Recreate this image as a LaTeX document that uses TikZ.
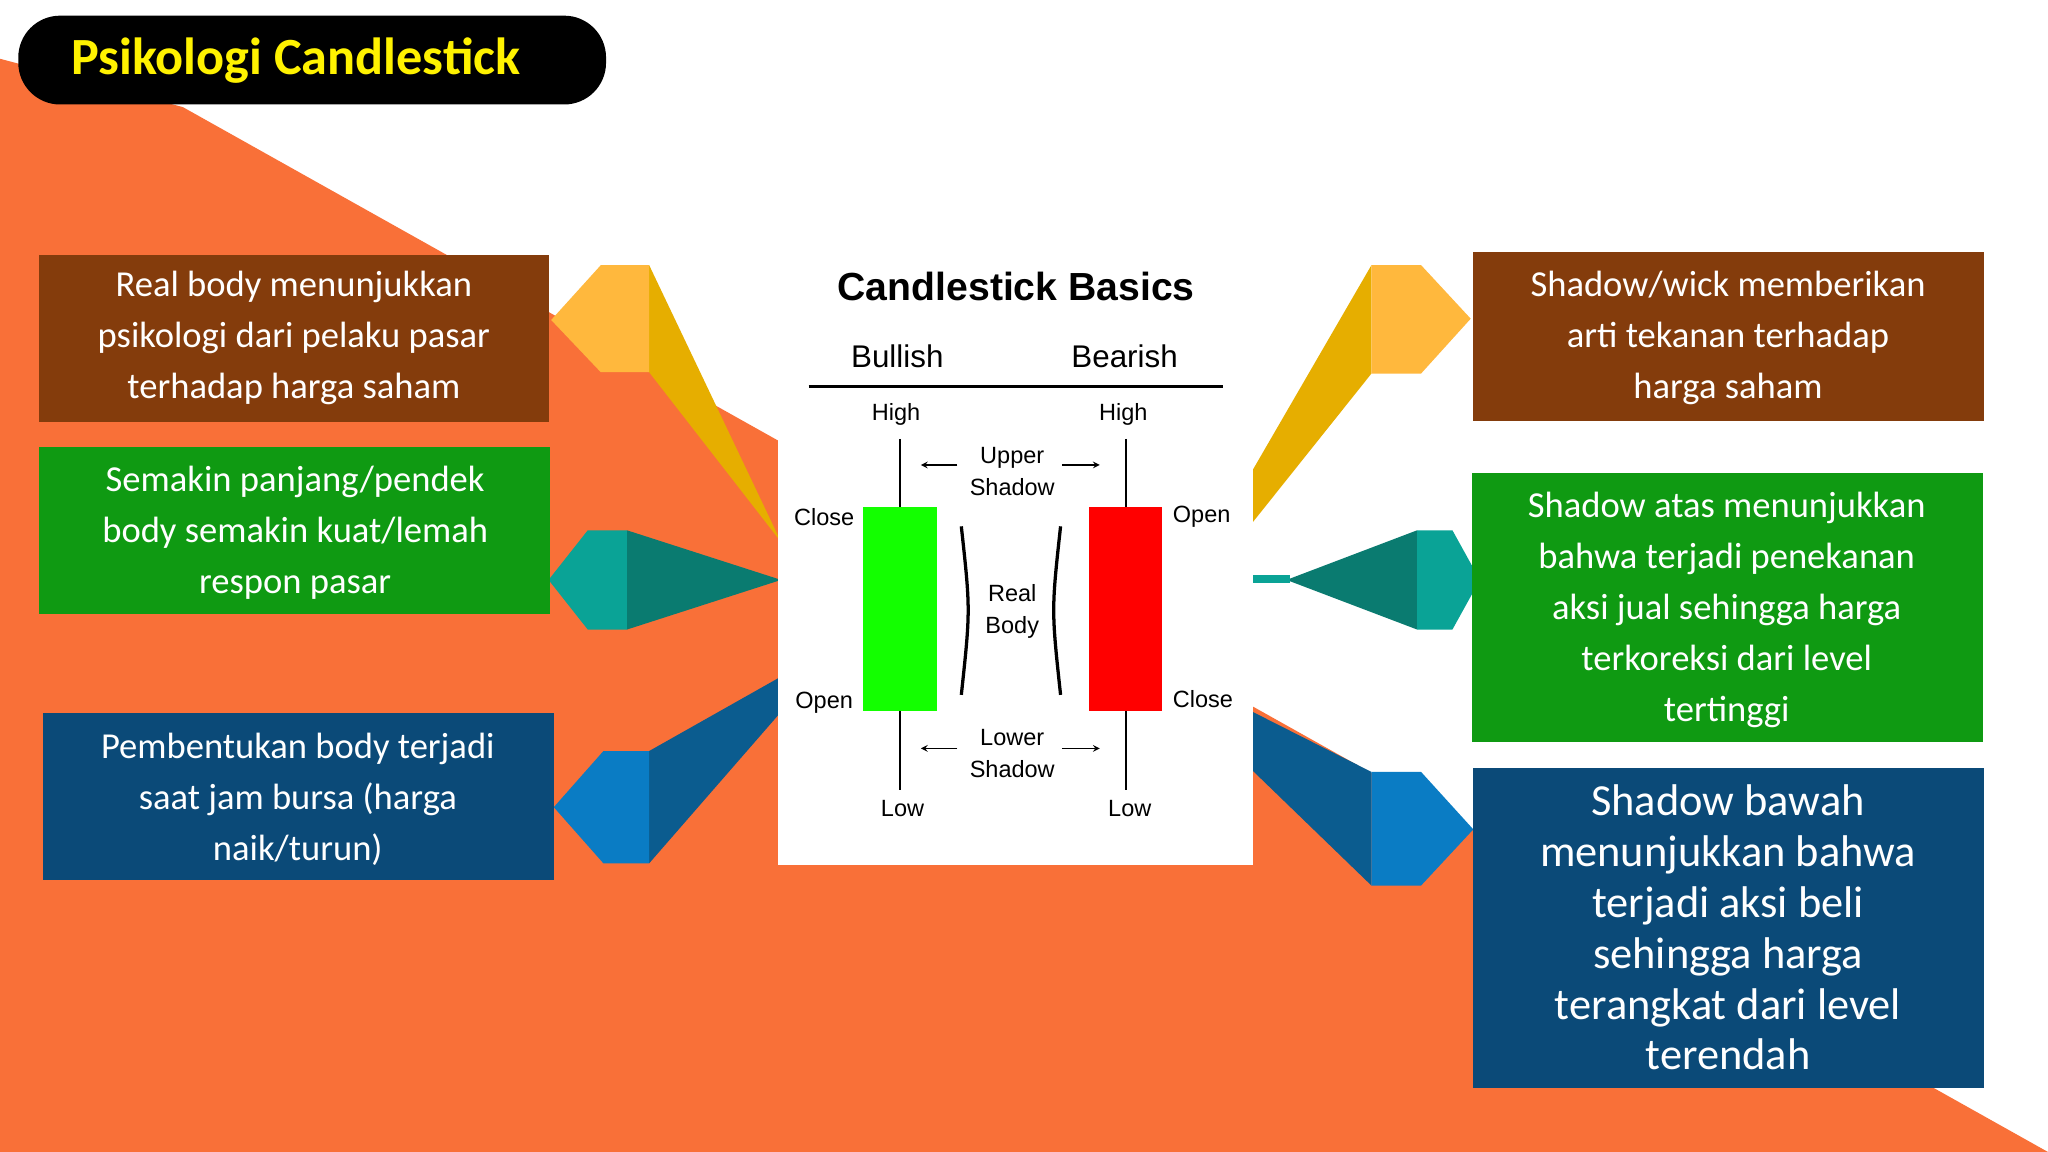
\documentclass[tikz,border=0pt]{standalone}
\usepackage{fontspec}
\setmainfont{Carlito}
\newfontfamily\arialf{Liberation Sans}
\definecolor{bg}{HTML}{F97038}
\definecolor{brn}{HTML}{843C0C}
\definecolor{grn}{HTML}{0F9A12}
\definecolor{blu}{HTML}{0B4A78}
\definecolor{ylA}{HTML}{FFB83D}
\definecolor{ylB}{HTML}{E6AE00}
\definecolor{tlA}{HTML}{0AA396}
\definecolor{tlB}{HTML}{0A7B70}
\definecolor{blA}{HTML}{0A7CC4}
\definecolor{blB}{HTML}{0B5C8F}
\begin{document}
\begin{tikzpicture}[x=1pt,y=-1pt,
 txt/.style={text=white,align=center,font=\fontsize{28}{39}\selectfont,inner sep=0pt},
 lab/.style={font=\arialf\fontsize{18}{22}\selectfont,align=center,inner sep=0pt},
 arr/.style={-stealth,line width=1.3pt}]
\useasboundingbox (0,0) rectangle (1568,882);
\fill[white] (0,0) rectangle (1568,882);
\fill[bg] (0,45) -- (140,82) -- (1568,882) -- (0,882) -- cycle;
% title
\node[fill=black,rounded corners=32pt,minimum width=450pt,minimum height=68pt,text=yellow,font=\bfseries\fontsize{40}{44}\selectfont,inner sep=0pt] (title) at (239,46) {\hspace*{-25pt}Psikologi Candlestick};
% callouts left
\fill[ylB] (497,203) -- (497,285) -- (598,415) -- cycle;
\fill[ylA] (422,245) -- (460,203) -- (497,203) -- (497,285) -- (460,285) -- cycle;
\fill[tlB] (480,406) -- (480,482) -- (598,444) -- cycle;
\fill[tlA] (420,444) -- (450,406) -- (480,406) -- (480,482) -- (450,482) -- cycle;
\fill[blB] (497,575) -- (497,661) -- (598,545) -- (598,518) -- cycle;
\fill[blA] (424,618) -- (462,575) -- (497,575) -- (497,661) -- (462,661) -- cycle;
% callouts right
\fill[ylB] (1050,203) -- (1050,286) -- (959,400) -- (959,360) -- cycle;
\fill[ylA] (1126,244) -- (1088,203) -- (1050,203) -- (1050,286) -- (1088,286) -- cycle;
\fill[tlB] (1085,406) -- (1085,482) -- (985,444) -- cycle;
\fill[tlA] (1133,444) -- (1112,406) -- (1085,406) -- (1085,482) -- (1112,482) -- cycle;
\draw[tlA,line width=6pt] (903,443) -- (988,443);
\fill[blB] (1050,591) -- (1050,678) -- (959,590) -- (959,545) -- cycle;
\fill[blA] (1128,635) -- (1088,591) -- (1050,591) -- (1050,678) -- (1088,678) -- cycle;
% boxes
\fill[brn] (30,195) rectangle (420,323); \node[txt] (l1) at (225,259) {Real body menunjukkan\\psikologi dari pelaku pasar\\terhadap harga saham};
\fill[grn] (30,342) rectangle (421,470); \node[txt] (l2) at (226,408) {Semakin panjang/pendek\\body semakin kuat/lemah\\respon pasar};
\fill[blu] (33,546) rectangle (424,674); \node[txt] (l3) at (228,612) {Pembentukan body terjadi\\saat jam bursa (harga\\naik/turun)};
\fill[brn] (1128,193) rectangle (1519,322); \node[txt] (r1) at (1323,259) {Shadow/wick memberikan\\arti tekanan terhadap\\harga saham};
\fill[grn] (1127,362) rectangle (1518,568); \node[txt] (r2) at (1322,467) {Shadow atas menunjukkan\\bahwa terjadi penekanan\\aksi jual sehingga harga\\terkoreksi dari level\\tertinggi};
\fill[blu] (1128,588) rectangle (1519,833); \node[txt,font=\fontsize{34}{39}\selectfont] (r3) at (1323,710) {Shadow bawah\\menunjukkan bahwa\\terjadi aksi beli\\sehingga harga\\terangkat dari level\\terendah};
% central panel
\fill[white] (596,190) rectangle (959,662);
\node[lab,font=\arialf\bfseries\fontsize{30}{34}\selectfont] (cb) at (778,219) {Candlestick Basics};
\node[lab,font=\arialf\fontsize{24}{28}\selectfont] (bu) at (687,273) {Bullish};
\node[lab,font=\arialf\fontsize{24}{28}\selectfont] (be) at (861,273) {Bearish};
\draw[line width=2pt] (619,296) -- (936,296);
\node[lab] (h1) at (686,317) {High};
\node[lab] (h2) at (860,317) {High};
\draw[line width=2pt] (689,336) -- (689,605);
\draw[line width=2pt] (862,336) -- (862,605);
\fill[green!90!lime] (661,388) rectangle (717,544);
\fill[red] (834,388) rectangle (890,544);
\node[lab] (c1) at (631,396) {Close};
\node[lab] (o1) at (631,538) {Open};
\node[lab] (o2) at (920,396) {Open};
\node[lab] (c2) at (921,535) {Close};
\node[lab] (lo1) at (691,619) {Low};
\node[lab] (lo2) at (865,619) {Low};
\node[lab,font=\arialf\fontsize{18}{24}\selectfont] (us) at (775,361) {Upper\\Shadow};
\node[lab,font=\arialf\fontsize{18}{24}\selectfont] (ls) at (775,577) {Lower\\Shadow};
\node[lab,font=\arialf\fontsize{18}{24}\selectfont] (rb) at (775,468) {Real\\Body};
\draw[arr] (733,356) -- (705,356);
\draw[arr] (813,356) -- (842,356);
\draw[arr] (733,573) -- (705,573);
\draw[arr] (813,573) -- (842,573);
\draw[line width=2.5pt] (736,403) .. controls (743,467) .. (736,532);
\draw[line width=2.5pt] (812,403) .. controls (805,467) .. (812,532);
\end{tikzpicture}
\end{document}
